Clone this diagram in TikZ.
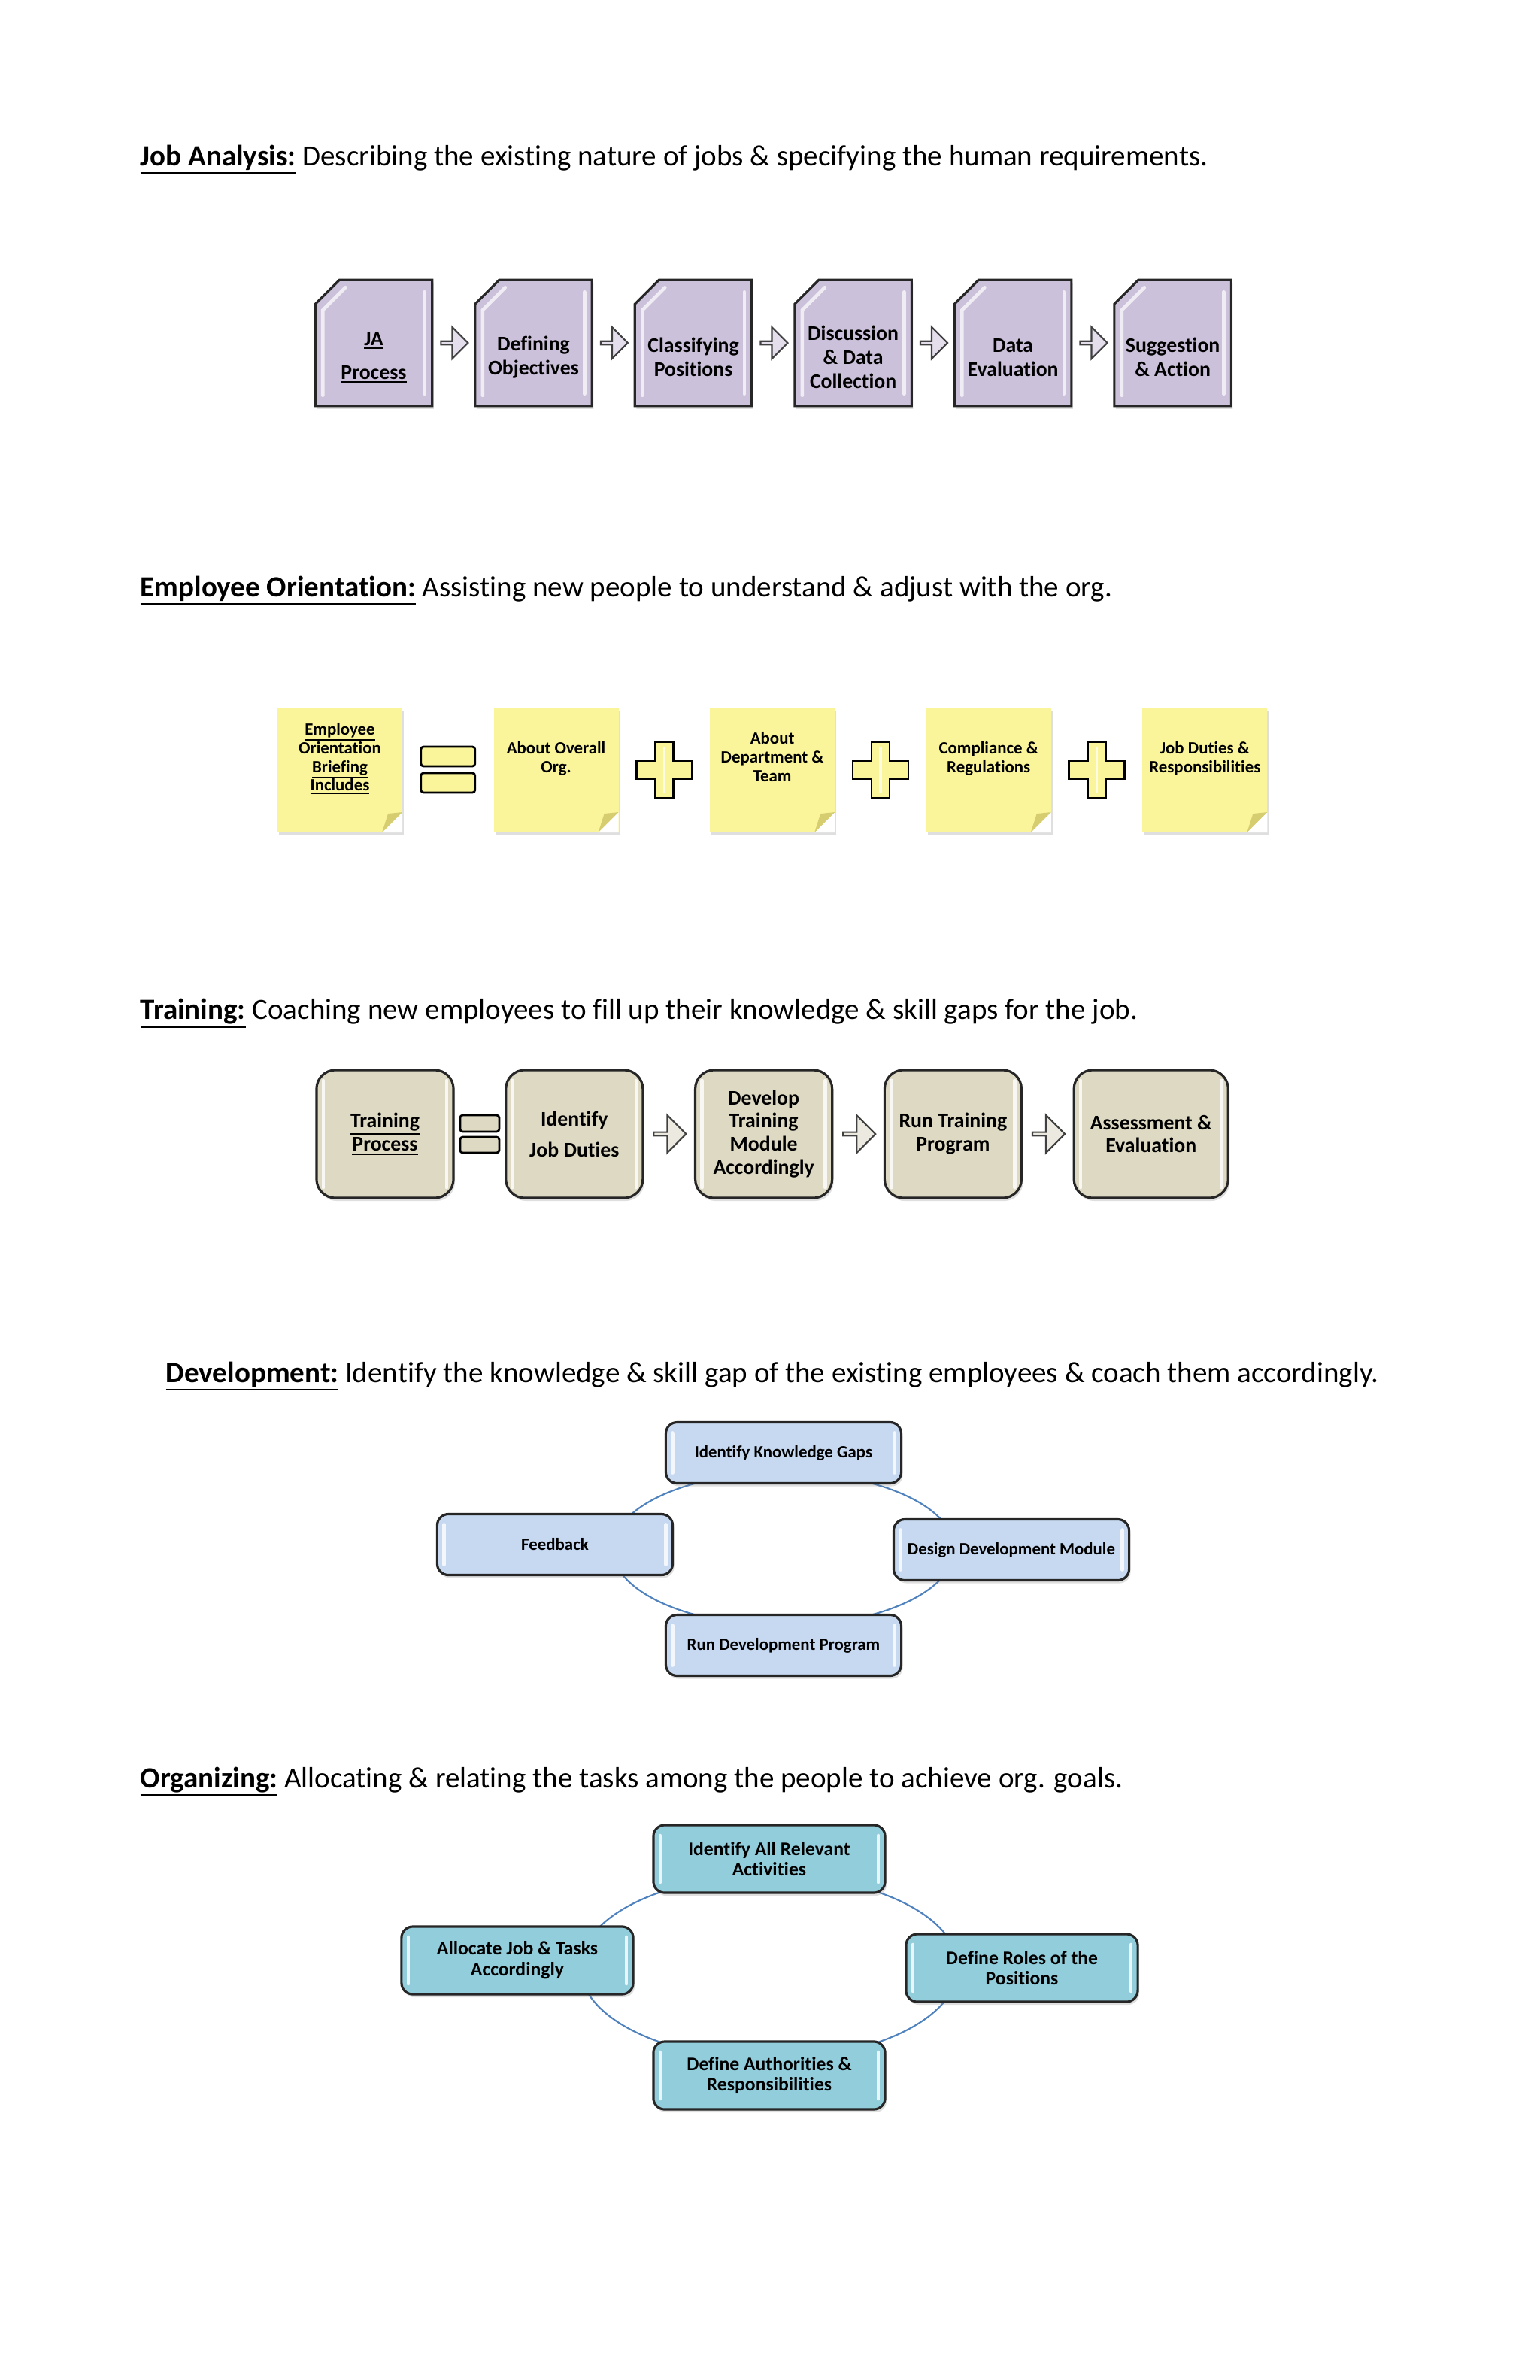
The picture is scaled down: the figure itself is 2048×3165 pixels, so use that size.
\documentclass[tikz,border=0pt]{standalone}
\usepackage{fontspec}
\setmainfont{Carlito}[Ligatures=CommonOff]
\usetikzlibrary{positioning,calc,shapes.arrows,shadows,backgrounds}

\definecolor{jafill}{RGB}{204,193,218}
\definecolor{jaarrfill}{RGB}{228,222,236}
\definecolor{notefill}{RGB}{250,245,154}
\definecolor{notefold}{RGB}{214,205,112}
\definecolor{trfill}{RGB}{221,217,195}
\definecolor{trarrfill}{RGB}{236,234,224}
\definecolor{devfill}{RGB}{198,217,241}
\definecolor{orgfill}{RGB}{146,205,220}
\definecolor{cycline}{RGB}{79,129,189}

\newcommand\jatop{\rule{0pt}{0.57cm}}
\newcommand\notebot{\rule[-0.35cm]{0pt}{0pt}}
\newcommand\ulbar[2][0.8pt]{\vtop{\hbox{#2}\kern0.7pt\hrule height #1}}

\tikzset{
  gloss/.style={path picture={
      \draw[white,opacity=.8,line width=1.3pt,line cap=round]
        ($(path picture bounding box.north west)+(9,14)$) -- ($(path picture bounding box.south west)+(9,-14)$);
      \draw[white,opacity=.8,line width=1.3pt,line cap=round]
        ($(path picture bounding box.north east)+(-9,14)$) -- ($(path picture bounding box.south east)+(-9,-14)$);}},
  softshadow/.style={drop shadow={opacity=0.25,shadow xshift=0.02cm,shadow yshift=-0.04cm}},
  plussign/.pic={\draw[symbol] (-12,-37) -- (12,-37) -- (12,-12) -- (37,-12) -- (37,12) -- (12,12)
      -- (12,37) -- (-12,37) -- (-12,12) -- (-37,12) -- (-37,-12) -- (-12,-12) -- cycle;
    \draw[white,opacity=.7,line width=1pt] (0,-30) -- (0,30);},
  noteeq/.pic={\draw[symbol,rounded corners=1pt] (-36,-31) rectangle (36,-5);
    \draw[symbol,rounded corners=1pt] (-36,4) rectangle (36,30);},
  traineq/.pic={\draw[symbol,fill=trfill,rounded corners=1pt] (-26,-25) rectangle (26,-3);
    \draw[symbol,fill=trfill,rounded corners=1pt] (-26,4) rectangle (26,25);}
}

\begin{document}
\begin{tikzpicture}[x=0.01cm,y=-0.01cm,
  every node/.style={inner sep=0pt},
  head/.style={anchor=base west,font=\fontsize{11.1}{13}\selectfont},
  symbol/.style={draw=black,line width=0.8pt,fill=notefill},
  jabox/.style={rectangle,minimum width=1.54cm,minimum height=1.66cm,align=center,
    font=\bfseries\fontsize{7.9}{9.1}\selectfont},
  jashape/.style={draw=black!85,line width=0.9pt,fill=jafill,softshadow,
    path picture={
      \draw[white,opacity=.7,line width=1.3pt,line cap=round]
        ($(path picture bounding box.south west)+(10,-14)$) -- ($(path picture bounding box.north west)+(10,40)$)
        -- ($(path picture bounding box.north west)+(40,10)$);
      \draw[white,opacity=.7,line width=1.3pt,line cap=round]
        ($(path picture bounding box.north east)+(-10,16)$) -- ($(path picture bounding box.south east)+(-10,-16)$);}},
  jaarrow/.style={single arrow,draw=black!75,fill=jaarrfill,line width=0.6pt,
    minimum height=0.36cm,minimum width=0.42cm,single arrow head extend=0.085cm},
  note/.style={rectangle,fill=notefill,minimum width=1.66cm,minimum height=1.66cm,
    softshadow,align=center,font=\bfseries\fontsize{6.5}{7.1}\selectfont,
    execute at begin node={\lineskiplimit=-5pt\relax},
    path picture={
      \fill[white] ($(path picture bounding box.south east)+(0,-27)$) -- (path picture bounding box.south east)
        -- ($(path picture bounding box.south east)+(-27,0)$) -- cycle;
      \fill[notefold] ($(path picture bounding box.south east)+(0,-27)$) -- ($(path picture bounding box.south east)+(-19,-25)$)
        -- ($(path picture bounding box.south east)+(-27,0)$) -- cycle;}},
  trbox/.style={rectangle,rounded corners=0.25cm,minimum width=1.82cm,minimum height=1.70cm,
    draw=black!85,line width=0.9pt,fill=trfill,softshadow,gloss,align=center,
    font=\bfseries\fontsize{7.9}{8.8}\selectfont},
  trarrow/.style={single arrow,draw=black!75,fill=trarrfill,line width=0.6pt,
    minimum height=0.43cm,minimum width=0.50cm,single arrow head extend=0.10cm},
  devbox/.style={rectangle,rounded corners=0.15cm,minimum width=3.13cm,minimum height=0.81cm,
    draw=black!85,line width=0.9pt,fill=devfill,softshadow,gloss,align=center,
    font=\bfseries\fontsize{6.5}{7.5}\selectfont},
  orgbox/.style={rectangle,rounded corners=0.15cm,minimum width=3.08cm,minimum height=0.90cm,
    draw=black!85,line width=0.9pt,fill=orgfill,softshadow,gloss,align=center,
    font=\bfseries\fontsize{7.3}{7.9}\selectfont},
  cyc/.style={draw=cycline,line width=0.6pt}]

\useasboundingbox (0,0) rectangle (2048,3165);

% job analysis
\node[head] (h1) at (186,220) {\ulbar{\textbf{Job Analysis:}} Describing the existing nature of jobs \& specifying the human requirements.};
\node[jabox] (ja1) at (497,456) {\jatop\ulbar[0.6pt]{JA}\\[0.13cm]\ulbar[0.6pt]{Process}};
\node[jabox,right=0.57cm of ja1] (ja2) {\jatop Defining\\Objectives};
\node[jabox,right=0.57cm of ja2] (ja3) {\jatop Classifying\\Positions};
\node[jabox,right=0.57cm of ja3] (ja4) {\jatop Discussion\\\& Data\\Collection};
\node[jabox,right=0.57cm of ja4] (ja5) {\jatop Data\\Evaluation};
\node[jabox,right=0.57cm of ja5] (ja6) {\jatop Suggestion\\\& Action};
\begin{scope}[on background layer]
  \foreach \i in {1,...,6}
    \draw[jashape] ($(ja\i.north west)+(0,32)$) -- ($(ja\i.north west)+(32,0)$) -- (ja\i.north east)
      -- (ja\i.south east) -- (ja\i.south west) -- cycle;
\end{scope}
\foreach \i/\j in {1/2,2/3,3/4,4/5,5/6}
  \node[jaarrow] (jaa\i) at ($(ja\i.east)!0.5!(ja\j.west)$) {};

% employee orientation
\node[head] (h2) at (186,793) {\ulbar{\textbf{Employee Orientation:}} Assisting new people to understand \& adjust with the org.};
\node[note] (n1) at (452,1024) {\ulbar[0.5pt]{Employee}\\\ulbar[0.5pt]{Orientation}\\\ulbar[0.5pt]{Briefing}\\\ulbar[0.5pt]{Includes}\notebot};
\node[note,right=1.2cm of n1] (n2) {About Overall\\Org.\notebot};
\node[note,right=1.2cm of n2] (n3) {About\\Department \&\\Team\notebot};
\node[note,right=1.2cm of n3] (n4) {Compliance \&\\Regulations\notebot};
\node[note,right=1.2cm of n4] (n5) {Job Duties \&\\Responsibilities\notebot};
\pic (eq1) at ($(n1.east)!0.5!(n2.west)$) {noteeq};
\foreach \i/\j in {2/3,3/4,4/5}
  \pic (pl\i) at ($(n\i.east)!0.5!(n\j.west)$) {plussign};

% training
\node[head] (h3) at (186,1355) {\ulbar{\textbf{Training:}} Coaching new employees to fill up their knowledge \& skill gaps for the job.};
\node[trbox] (tr1) at (512,1508) {\ulbar[0.6pt]{Training}\\\ulbar[0.6pt]{Process}};
\node[trbox,right=0.665cm of tr1] (tr2) {Identify\\[0.1cm]Job Duties};
\node[trbox,right=0.665cm of tr2] (tr3) {Develop\\Training\\Module\\Accordingly};
\node[trbox,right=0.665cm of tr3] (tr4) {Run Training\\Program};
\node[trbox,right=0.665cm of tr4,minimum width=2.05cm] (tr5) {Assessment \&\\Evaluation};
\pic (eq2) at ($(tr1.east)!0.5!(tr2.west)$) {traineq};
\foreach \i/\j in {2/3,3/4,4/5}
  \node[trarrow] (tra\i) at ($(tr\i.east)!0.5!(tr\j.west)$) {};

% development
\node[head] (h4) at (220,1838) {\ulbar{\textbf{Development:}} Identify the knowledge \& skill gap of the existing employees \& coach them accordingly.};
\node[devbox] (dtop) at (1042,1932) {Identify Knowledge Gaps};
\node[devbox] (ddes) at (1345,2061) {Design Development Module};
\node[devbox] (drun) at (1042,2188) {Run Development Program};
\node[devbox] (dfb) at (738,2054) {Feedback};
\coordinate (dmid) at ($(dtop)!0.5!(drun)$);
\begin{scope}[on background layer]
  \draw[cyc] (dmid) ellipse [x radius=2.27cm,y radius=1.02cm];
\end{scope}

% organizing
\node[head] (h5) at (186,2377) {\ulbar{\textbf{Organizing:}} Allocating \& relating the tasks among the people to achieve org. goals.};
\node[orgbox] (otop) at (1023,2472) {Identify All Relevant\\Activities};
\node[orgbox] (oright) at (1359,2617) {Define Roles of the\\Positions};
\node[orgbox] (obot) at (1023,2760) {Define Authorities \&\\Responsibilities};
\node[orgbox] (oleft) at (688,2607) {Allocate Job \& Tasks\\Accordingly};
\coordinate (omid) at ($(otop)!0.5!(obot)$);
\begin{scope}[on background layer]
  \draw[cyc] (omid) ellipse [x radius=2.51cm,y radius=1.22cm];
\end{scope}
\end{tikzpicture}
\end{document}
